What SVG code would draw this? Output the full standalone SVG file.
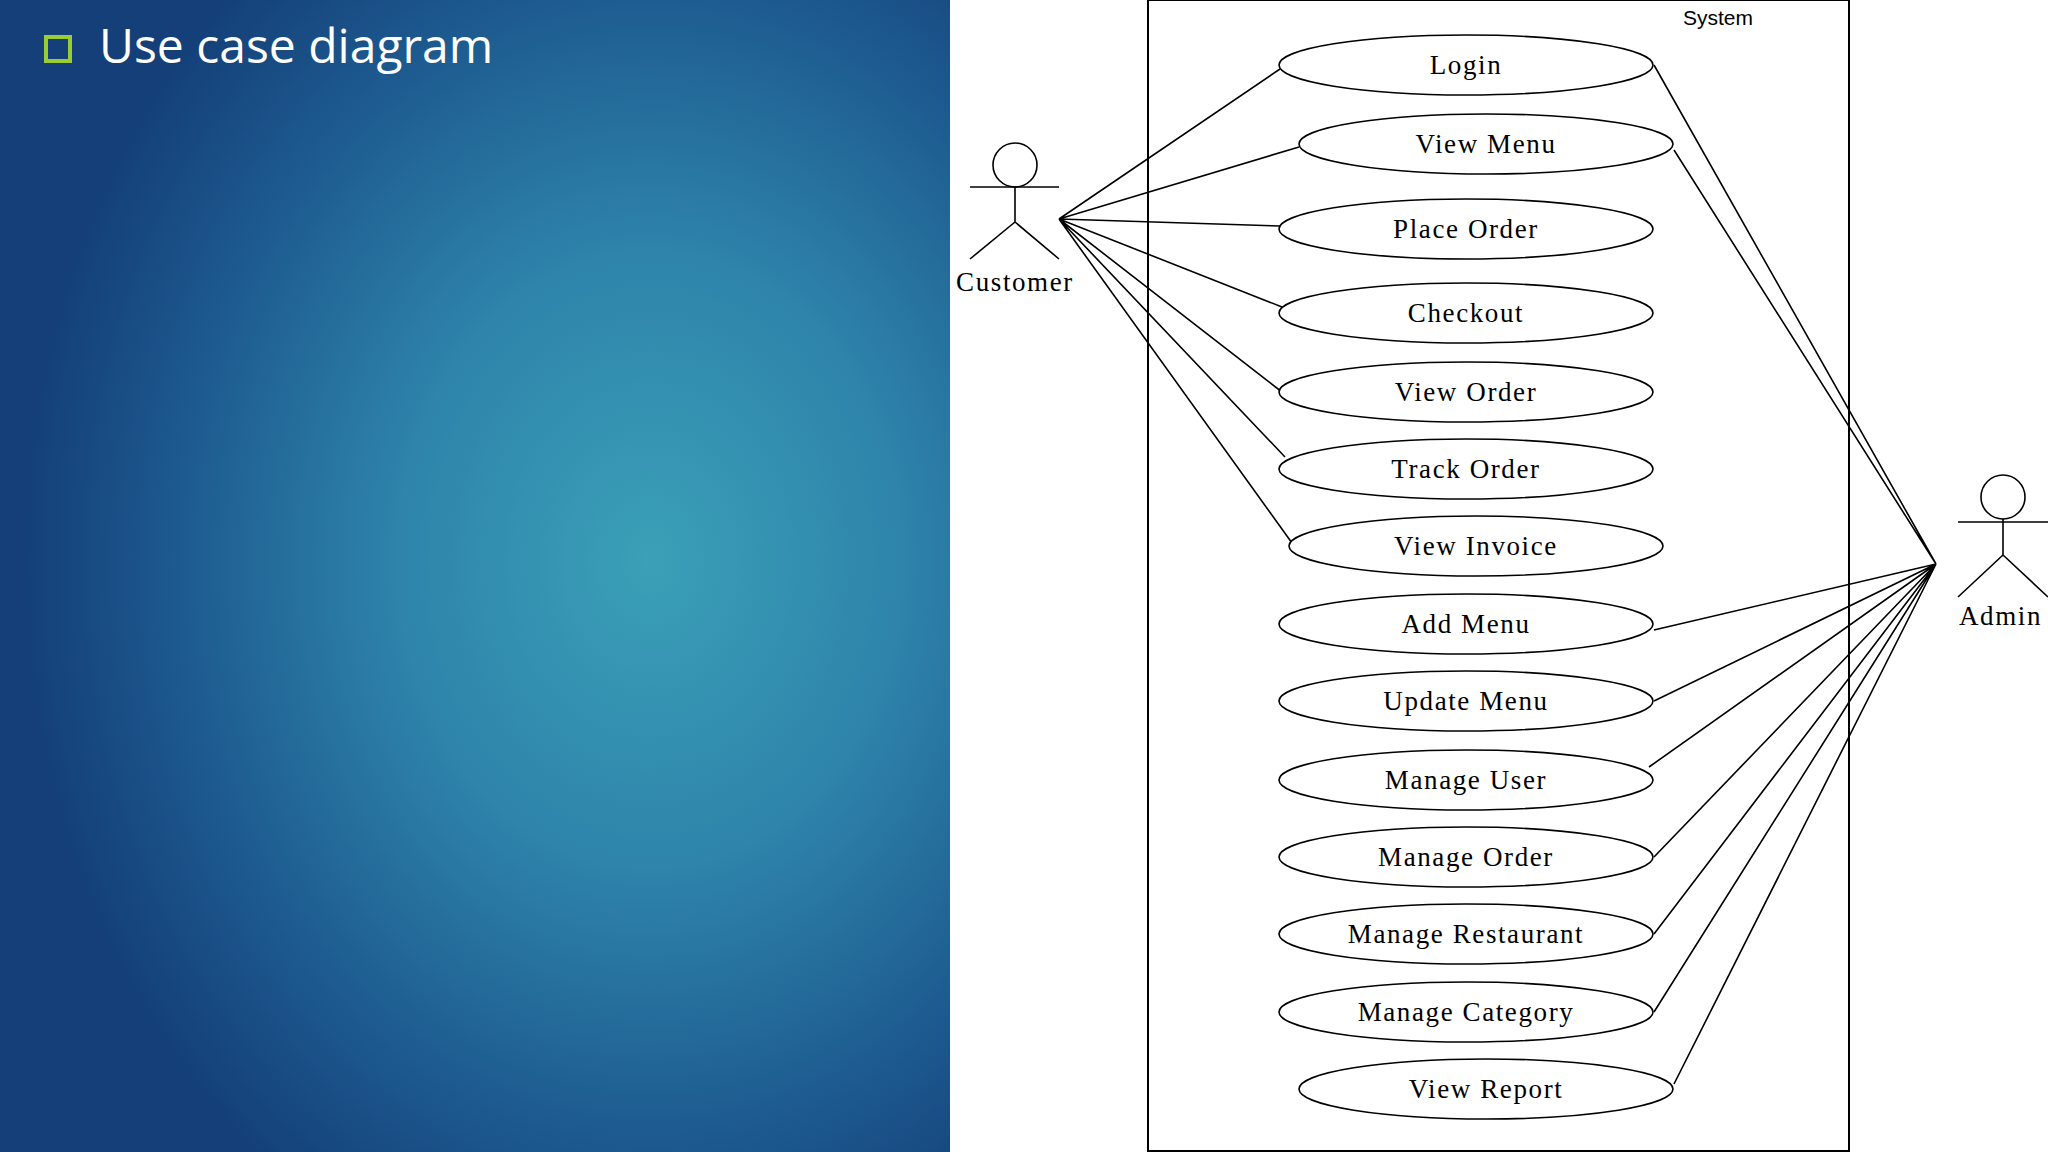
<svg xmlns="http://www.w3.org/2000/svg" width="2048" height="1152" viewBox="0 0 2048 1152">
<defs>
<radialGradient id="bg" gradientUnits="userSpaceOnUse" cx="650" cy="560" r="700" gradientTransform="translate(650 560) scale(0.9 1.1) translate(-650 -560)">
<stop offset="0" stop-color="#3ba0b8"/>
<stop offset="0.4" stop-color="#2e84ab"/>
<stop offset="0.75" stop-color="#1d5a8f"/>
<stop offset="1" stop-color="#143f78"/>
</radialGradient>
<style>
.uc{fill:#fff;stroke:#000;stroke-width:1.6}
.ut{font-family:"Liberation Serif",serif;font-size:27px;letter-spacing:1.6px;text-anchor:middle;fill:#000}
.ln{stroke:#000;stroke-width:1.6;fill:none}
</style>
</defs>
<rect width="2048" height="1152" fill="#fff"/>
<rect width="950" height="1152" fill="url(#bg)"/>
<rect x="46" y="37" width="24" height="24" fill="none" stroke="#9acd32" stroke-width="4"/>
<text x="99" y="63" font-family="Open Sans, sans-serif" font-size="48" fill="#fff">Use case diagram</text>
<rect x="1148" y="0" width="701" height="1151" fill="none" stroke="#000" stroke-width="2"/>
<text x="1718" y="25" font-family="Liberation Sans, sans-serif" font-size="21" text-anchor="middle">System</text>
<g id="connectors">
<path class="ln" d="M1059 219L1280 69M1059 219L1299 147M1059 219L1280 226M1059 219L1282 307M1059 219L1282 392M1059 219L1285 457M1059 219L1292 543"/>
<path class="ln" d="M1936 564L1654 65M1936 564L1674 150M1936 564L1654 630M1936 564L1654 701M1936 564L1649 767M1936 564L1654 857M1936 564L1654 934M1936 564L1654 1012M1936 564L1674 1084"/>
</g>
<g id="customer" class="ln"><circle cx="1015" cy="165" r="22"/><path d="M1015 187V222M970 187H1059M1015 222L970 259M1015 222L1059 259"/></g>
<text x="1015" y="291" class="ut">Customer</text>
<g id="admin" class="ln"><circle cx="2003" cy="497" r="22"/><path d="M2003 519V555M1958 522H2048M2003 555L1958 597M2003 555L2048 597"/></g>
<text x="1959" y="625" class="ut" style="text-anchor:start">Admin</text>
<g id="uc1"><ellipse class="uc" cx="1466" cy="65" rx="187" ry="30"/><text class="ut" x="1466" y="74">Login</text></g>
<g id="uc2"><ellipse class="uc" cx="1486" cy="144" rx="187" ry="30"/><text class="ut" x="1486" y="153">View Menu</text></g>
<g id="uc3"><ellipse class="uc" cx="1466" cy="229" rx="187" ry="30"/><text class="ut" x="1466" y="238">Place Order</text></g>
<g id="uc4"><ellipse class="uc" cx="1466" cy="313" rx="187" ry="30"/><text class="ut" x="1466" y="322">Checkout</text></g>
<g id="uc5"><ellipse class="uc" cx="1466" cy="392" rx="187" ry="30"/><text class="ut" x="1466" y="401">View Order</text></g>
<g id="uc6"><ellipse class="uc" cx="1466" cy="469" rx="187" ry="30"/><text class="ut" x="1466" y="478">Track Order</text></g>
<g id="uc7"><ellipse class="uc" cx="1476" cy="546" rx="187" ry="30"/><text class="ut" x="1476" y="555">View Invoice</text></g>
<g id="uc8"><ellipse class="uc" cx="1466" cy="624" rx="187" ry="30"/><text class="ut" x="1466" y="633">Add Menu</text></g>
<g id="uc9"><ellipse class="uc" cx="1466" cy="701" rx="187" ry="30"/><text class="ut" x="1466" y="710">Update Menu</text></g>
<g id="uc10"><ellipse class="uc" cx="1466" cy="780" rx="187" ry="30"/><text class="ut" x="1466" y="789">Manage User</text></g>
<g id="uc11"><ellipse class="uc" cx="1466" cy="857" rx="187" ry="30"/><text class="ut" x="1466" y="866">Manage Order</text></g>
<g id="uc12"><ellipse class="uc" cx="1466" cy="934" rx="187" ry="30"/><text class="ut" x="1466" y="943">Manage Restaurant</text></g>
<g id="uc13"><ellipse class="uc" cx="1466" cy="1012" rx="187" ry="30"/><text class="ut" x="1466" y="1021">Manage Category</text></g>
<g id="uc14"><ellipse class="uc" cx="1486" cy="1089" rx="187" ry="30"/><text class="ut" x="1486" y="1098">View Report</text></g>
</svg>
